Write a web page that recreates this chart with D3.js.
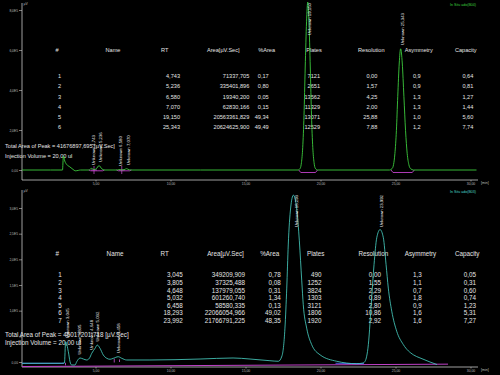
<!DOCTYPE html>
<html><head><meta charset="utf-8">
<script src="https://cdn.jsdelivr.net/npm/d3@7"></script>
<style>
body{margin:0;background:#000;}
svg{display:block;background:#000;font-family:"Liberation Sans",Arial,sans-serif;}
</style>
</head><body>
<svg id="c" width="500" height="375"></svg>
<script>
// ---------- DATA ----------
const headers = ["#","Name","RT","Area[µV.Sec]","%Area","Plates","Resolution","Asymmetry","Capacity"];

const topIds = [1,2,3,4,5,6];
const topRT = [4.743,5.236,6.580,7.070,19.150,25.343];
const topArea = [71337.705,335401.896,19340.200,62830.166,20563361.829,20624625.900];
const topPctArea = [0.17,0.80,0.05,0.15,49.34,49.49];
const topPlates = [7121,2651,13562,11329,13071,12529];
const topResolution = [0.00,1.57,4.25,2.00,25.88,7.88];
const topAsymmetry = [0.9,0.9,1.3,1.3,1.0,1.2];
const topCapacity = [0.64,0.81,1.27,1.44,5.60,7.74];
const topTotalArea = 41676897.695;

const botIds = [1,2,3,4,5,6,7];
const botRT = [3.045,3.805,4.648,5.032,6.458,18.293,23.992];
const botArea = [349209.909,37325.488,137979.055,601260.740,58580.335,22066054.966,21766791.225];
const botPctArea = [0.78,0.08,0.31,1.34,0.13,49.02,48.35];
const botPlates = [490,1252,3824,1303,3121,1806,1920];
const botResolution = [0.00,1.55,2.29,0.89,2.80,10.86,2.92];
const botAsymmetry = [1.3,1.1,0.7,1.8,0.9,1.6,1.6];
const botCapacity = [0.05,0.31,0.60,0.74,1.23,5.31,7.27];
const botTotalArea = 45017201.718;

const injectionVolume = 20.00;

const xTicks = [5,10,15,20,25,30];
const topYTicks = [0,200000,400000,600000,800000];
const botYTicks = [0,50000,100000,150000,200000,250000,300000];
const botHiddenYLabels = [50000]; // covered by the "Total Area" text in the reference

const topLegend = "In Situ ado(B04)";
const botLegend = "In Situ ado(B03)";

// chromatogram traces: [time (min), signal (µV)]
const topTrace = [
[0.1,0],[2.0,0],[2.8,0],[2.86,70000],[2.95,45000],[3.1,26000],[3.3,15000],[3.5,3000],[3.65,-4000],[3.85,-2000],[4.0,0],
[4.55,0],[4.743,8000],[4.9,2000],[5.05,6000],[5.236,22000],[5.42,6000],[5.6,0],
[6.45,0],[6.58,2500],[6.75,500],[6.9,1500],[7.07,6500],[7.25,1000],[7.4,0],
[12,0],[18.5,0],
[18.65,9000],[18.73,37000],[18.815,113000],[18.9,272000],[18.98,510000],[19.07,741000],[19.15,840000],[19.23,741000],[19.32,510000],[19.4,272000],[19.485,113000],[19.57,37000],[19.65,9000],[19.8,0],
[24.6,0],[24.77,7000],[24.87,27000],[24.96,82000],[25.06,197000],[25.15,368000],[25.25,535000],[25.343,606000],[25.45,535000],[25.56,368000],[25.67,197000],[25.78,82000],[25.89,27000],[26.0,7000],[26.2,0],[30.4,0]
];
const botTrace = [
[0.1,-2500],[2.75,-2500],[2.93,-2000],[3.01,39500],[3.19,20000],[3.3,600],[3.41,-5800],[3.63,-5800],[3.75,600],[3.97,7800],[4.19,5800],[4.41,3900],[4.59,7200],[4.75,17000],[4.97,26700],[5.12,33000],[5.3,26700],[5.52,13600],[5.75,7200],[5.97,5300],[6.19,7200],[6.52,10300],[6.75,7200],[7.08,3900],[8.63,3900],[11.97,5800],[14.17,7800],[15.3,5800],[16.63,2500],
[17.19,1400],[17.43,11700],[17.63,66000],[17.75,144000],[17.85,228000],[18.01,300000],[18.19,325000],[18.41,300000],[18.59,236000],[18.75,158000],[18.85,112000],[19.08,66000],[19.41,34000],[19.97,14000],[21.08,1400],[22.41,-3300],[22.83,-2000],
[22.97,1400],[23.19,34000],[23.41,125000],[23.57,190000],[23.75,242000],[23.97,258000],[24.19,242000],[24.37,190000],[24.52,144000],[24.75,99000],[25.08,60000],[25.52,34000],[26.19,14000],[26.63,8000],[27.3,0],[27.77,-5000]
];
// integration baseline pieces
const topIntegration = [[4.55,5.6],[6.4,7.4],[18.55,19.8],[24.7,26.25]];
const topCrossMarks = [4.9,6.75];
const botBaselineBlue = [[[0.1,-2500],[2.9,-2500]],[[21.0,-2500],[22.9,-3300]]];
const botBaselineMagenta = [[0.1,-8800],[28.5,-4200]];
const botDropMarks = [[3.0,-6500,-1500],[6.25,-1000,6500],[6.6,0,5000]];

// ---------- DRAWING ----------
const svg = d3.select("#c");
svg.append("rect").attr("width",500).attr("height",375).attr("fill","#000");
const loc = d3.formatLocale({decimal:",",thousands:"",grouping:[3],currency:["",""]});
const f3 = loc.format(".3f"), f2 = loc.format(".2f"), f1 = loc.format(".1f"), f0 = loc.format("d");
const yFmt = v => v===0 ? "0,00" : (v/Math.pow(10,Math.floor(Math.log10(v)))).toFixed(1).replace(".",",")+"E"+Math.floor(Math.log10(v));

const x = d3.scaleLinear().domain([0,30.5]).range([20.5,478]);
const textCol = "#e4e4e4", axisCol = "#c8c8c8";

function panel(o){
  const g = svg.append("g");
  const y = d3.scaleLinear().domain([0,o.yMax]).range([o.zeroY,o.yMaxPx]);
  const hidden = o.hiddenY || [];
  g.append("line").attr("x1",22).attr("x2",22).attr("y1",o.axisTop).attr("y2",o.axisY).attr("stroke",axisCol).attr("stroke-width",0.8);
  g.append("line").attr("x1",22).attr("x2",478).attr("y1",o.axisY).attr("y2",o.axisY).attr("stroke",axisCol).attr("stroke-width",0.8);
  const ya = d3.axisLeft(y).tickValues(o.yTicks).tickSize(3).tickPadding(1).tickFormat(v=>hidden.includes(v)?"":yFmt(v));
  const yg = g.append("g").attr("transform","translate(22,0)").call(ya);
  yg.select(".domain").remove();
  yg.selectAll("line").attr("stroke",axisCol).attr("stroke-width",0.6);
  yg.selectAll("text").attr("fill","#bbb").style("font-size","3.3px").style("font-family","Liberation Sans");
  const xa = d3.axisBottom(x).tickValues(xTicks).tickSize(1.5).tickPadding(1).tickFormat(f2);
  const xg = g.append("g").attr("transform",`translate(0,${o.axisY})`).call(xa);
  xg.select(".domain").remove();
  xg.selectAll("line").attr("stroke",axisCol).attr("stroke-width",0.6);
  xg.selectAll("text").attr("fill","#bbb").style("font-size","3.4px").style("font-family","Liberation Sans");
  g.append("text").attr("x",481).attr("y",o.axisY+4).attr("fill","#bbb").style("font-size","3.6px").text("[min]");
  g.append("text").attr("x",23.5).attr("y",o.axisTop+1.5).attr("fill","#bbb").style("font-size","3.4px").text("µV");
  g.append("text").attr("x",450).attr("y",o.axisTop+3).attr("fill",o.color).style("font-size","3.6px").text(o.legend);

  const fs = o.fontSize;
  o.cols.forEach((c,i)=>{
    g.append("text").attr("x",c.hx).attr("y",o.headY).attr("text-anchor","middle").attr("fill",textCol)
      .style("font-size",fs+"px").text(headers[i]);
  });
  o.rows.forEach((r,ri)=>{
    r.forEach((v,ci)=>{
      const c = o.cols[ci];
      if (v===null) return;
      g.append("text").attr("x",c.vx).attr("y",o.rowY0+ri*o.rowStep)
        .attr("text-anchor",c.anchor||"end").attr("fill",textCol).style("font-size",fs+"px").text(v);
    });
  });
  g.append("text").attr("x",5).attr("y",o.totY).attr("fill",textCol).style("font-size",fs+"px")
    .text("Total Area of Peak = "+f3(o.total)+" [µV.Sec]");
  g.append("text").attr("x",5).attr("y",o.totY+o.injStep).attr("fill",textCol).style("font-size",fs+"px")
    .text("Injection Volume = "+f2(injectionVolume)+" ul");

  if (o.extra) o.extra(g,y);

  const line = d3.line().x(d=>x(d[0])).y(d=>y(d[1])).curve(d3.curveMonotoneX);
  g.append("path").datum(o.trace).attr("d",line).attr("fill","none").attr("stroke",o.color).attr("stroke-width",o.lw);

  o.rts.forEach(rt=>{
    const near = o.trace.filter(d=>Math.abs(d[0]-rt)<=0.2);
    const apex = d3.max(near,d=>d[1]);
    const t = g.append("text").attr("fill","#f0f0f0").style("font-size","4.3px").text("Unknown "+f3(rt));
    const len = t.node().getComputedTextLength();
    const yb = Math.max(y(apex)-3.5, o.labelTop+len);
    const xx = x(rt)+3;
    t.attr("transform",`translate(${xx},${yb}) rotate(-90)`);
  });
}

const fmtRows = (ids,rt,area,pct,pl,res,asy,cap)=>ids.map((id,i)=>[String(id),null,f3(rt[i]),f3(area[i]),f2(pct[i]),f0(pl[i]),f2(res[i]),f1(asy[i]),f2(cap[i])]);

panel({
  yMax:800000, zeroY:170, yMaxPx:10, axisTop:3, axisY:180, yTicks:topYTicks,
  color:"#3dcc3d", lw:0.9, legend:topLegend, trace:topTrace, rts:topRT, labelTop:3,
  fontSize:5.6, headY:52, rowY0:78.3, rowStep:10.1, totY:147.7, injStep:10, total:topTotalArea,
  cols:[{hx:57,vx:59.5,anchor:"middle"},{hx:113,vx:113},{hx:164.7,vx:180},{hx:223.3,vx:249.3},{hx:266.7,vx:268.7},{hx:314,vx:320},{hx:371.3,vx:377.3},{hx:418.8,vx:420.7},{hx:465.8,vx:473.3}],
  rows:fmtRows(topIds,topRT,topArea,topPctArea,topPlates,topResolution,topAsymmetry,topCapacity),
  extra:(g,y)=>{
    const y0 = y(0);
    topIntegration.forEach(([s,e],i)=>{
      const x1=x(s), x2=x(e), dd = i>=2?2.5:0.8;
      g.append("path").attr("d",`M${x1},${y0}L${x1+2},${y0+dd}L${x2-2},${y0+dd}L${x2},${y0}`)
        .attr("fill","none").attr("stroke","#c040c8").attr("stroke-width",0.9);
    });
    topCrossMarks.forEach(t=>{
      g.append("path").attr("d",`M${x(t)-3},${y0}H${x(t)+3}M${x(t)},${y0-4}V${y0+4}`)
        .attr("stroke","#d050d8").attr("stroke-width",0.7);
    });
  }
});

panel({
  yMax:300000, zeroY:362, yMaxPx:208, axisTop:190, axisY:367, yTicks:botYTicks, hiddenY:botHiddenYLabels,
  color:"#4ad6c8", lw:0.8, legend:botLegend, trace:botTrace, rts:botRT, labelTop:195,
  fontSize:6.3, headY:255.6, rowY0:277.3, rowStep:7.6, totY:337.3, injStep:7.3, total:botTotalArea,
  cols:[{hx:57.3,vx:60,anchor:"middle"},{hx:115,vx:115},{hx:164.7,vx:182.7},{hx:225.5,vx:245},{hx:269.7,vx:280.7},{hx:315.7,vx:321.5},{hx:373.3,vx:381},{hx:420.5,vx:421.7},{hx:467.2,vx:476}],
  rows:fmtRows(botIds,botRT,botArea,botPctArea,botPlates,botResolution,botAsymmetry,botCapacity),
  extra:(g,y)=>{
    const l = d3.line().x(d=>x(d[0])).y(d=>y(d[1]));
    g.append("path").datum(botBaselineMagenta).attr("d",l).attr("fill","none").attr("stroke","#c040c8").attr("stroke-width",1);
    botBaselineBlue.forEach(seg=>{
      g.append("path").datum(seg).attr("d",l).attr("fill","none").attr("stroke","#4a5ad8").attr("stroke-width",1);
    });
    botDropMarks.forEach(([t,a,b])=>{
      g.append("line").attr("x1",x(t)).attr("x2",x(t)).attr("y1",y(a)).attr("y2",y(b)).attr("stroke","#d050d8").attr("stroke-width",0.8);
    });
  }
});
</script>
</body></html>
